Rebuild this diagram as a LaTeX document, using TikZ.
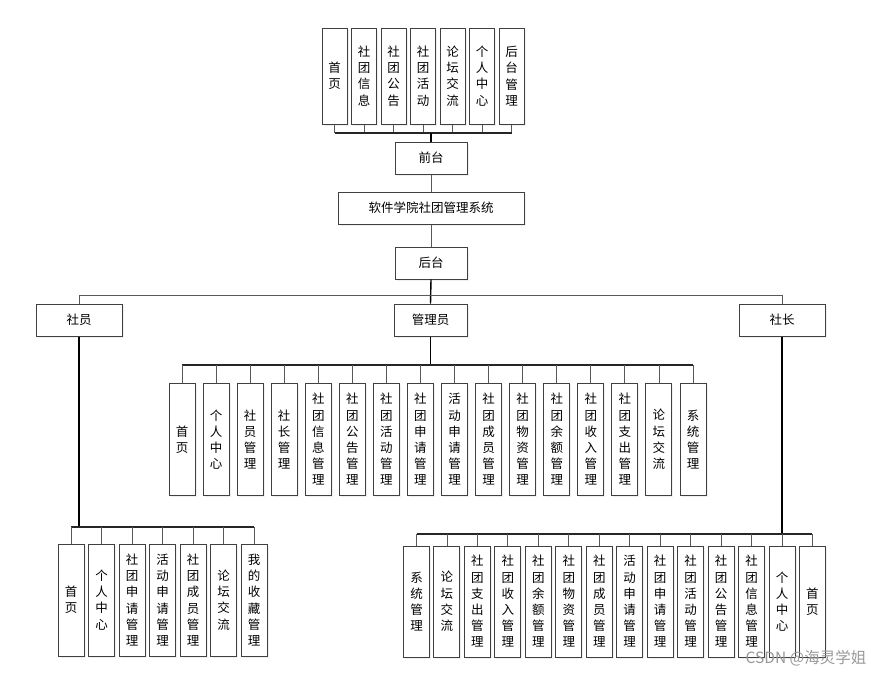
\documentclass[tikz,border=0pt]{standalone}
\usepackage{fontspec}
\setmainfont{Noto Sans CJK SC}
\usetikzlibrary{shadows}
\begin{document}
\begin{tikzpicture}[x=1pt,y=-1pt,
  box/.style={draw=black!75, line width=1pt, fill=white, inner sep=0pt, align=center,
    font=\fontsize{12.5}{16.2}\selectfont,
    drop shadow={opacity=0.12, shadow xshift=1.5pt, shadow yshift=-1.5pt}},
  hbox/.style={box, minimum height=32pt},
  vtop/.style={box, minimum width=25pt, minimum height=96pt},
  vbox/.style={box, minimum width=26pt, minimum height=112pt},
  stub/.style={draw=black!65, line width=0.9pt},
  bus/.style={draw=black!85, line width=1.2pt},
  trunk/.style={draw=black, line width=1.4pt}]
\useasboundingbox (0,0) rectangle (888,672);

% top row
\foreach \t [count=\i] in {首\\页, 社\\团\\信\\息, 社\\团\\公\\告, 社\\团\\活\\动, 论\\坛\\交\\流, 个\\人\\中\\心, 后\\台\\管\\理}
  \node[vtop] (t\i) at ({334.5+(\i-1)*29.5},76) {\t};

\node[hbox, minimum width=72pt] (qt) at (431,158) {前台};
\node[hbox, minimum width=186pt] (sys) at (431,208) {软件学院社团管理系统};
\node[hbox, minimum width=72pt] (ht) at (431,263) {后台};
\node[hbox, minimum width=73pt] (gly) at (430.5,320) {管理员};
\node[hbox, minimum width=86pt] (sy) at (79,320) {社员};
\node[hbox, minimum width=86pt] (sz) at (782,320) {社长};

% middle row
\foreach \t [count=\i] in {首\\页, 个\\人\\中\\心, 社\\员\\管\\理, 社\\长\\管\\理,
  社\\团\\信\\息\\管\\理, 社\\团\\公\\告\\管\\理, 社\\团\\活\\动\\管\\理, 社\\团\\申\\请\\管\\理,
  活\\动\\申\\请\\管\\理, 社\\团\\成\\员\\管\\理, 社\\团\\物\\资\\管\\理, 社\\团\\余\\额\\管\\理,
  社\\团\\收\\入\\管\\理, 社\\团\\支\\出\\管\\理, 论\\坛\\交\\流, 系\\统\\管\\理}
  \node[vbox] (m\i) at ({182+(\i-1)*34.07},439.5) {\t};

% bottom left
\foreach \t [count=\i] in {首\\页, 个\\人\\中\\心, 社\\团\\申\\请\\管\\理, 活\\动\\申\\请\\管\\理,
  社\\团\\成\\员\\管\\理, 论\\坛\\交\\流, 我\\的\\收\\藏\\管\\理}
  \node[vbox] (l\i) at ({71+(\i-1)*30.5},600) {\t};

% bottom right
\foreach \t [count=\i] in {系\\统\\管\\理, 论\\坛\\交\\流, 社\\团\\支\\出\\管\\理, 社\\团\\收\\入\\管\\理,
  社\\团\\余\\额\\管\\理, 社\\团\\物\\资\\管\\理, 社\\团\\成\\员\\管\\理, 活\\动\\申\\请\\管\\理,
  社\\团\\申\\请\\管\\理, 社\\团\\活\\动\\管\\理, 社\\团\\公\\告\\管\\理, 社\\团\\信\\息\\管\\理,
  个\\人\\中\\心, 首\\页}
  \node[vbox, minimum height=111pt] (r\i) at ({416.5+(\i-1)*30.46},601.5) {\t};

% bus coordinates
\coordinate (tb) at (431,133);
\coordinate (hb) at (431,295);
\coordinate (mb) at (431,365);
\coordinate (lb) at (79,527);
\coordinate (rb) at (782,534);

% top connectors
\foreach \i in {1,...,7} \draw[stub] (t\i.south) -- (t\i.south |- tb);
\draw[bus] (t1.south |- tb) -- (t7.south |- tb);
\draw[trunk] (qt.north) -- (qt.north |- tb);
\draw[stub] (qt.south) -- (sys.north);
\draw[stub] (sys.south) -- (ht.north);
\draw[trunk] (ht.south) -- (gly.north);
\draw[stub] (sy.north) -- (sy.north |- hb) -- (sz.north |- hb) -- (sz.north);

% middle connectors
\draw[trunk] (gly.south) -- (gly.south |- mb);
\draw[bus] (m1.north |- mb) -- (m16.north |- mb);
\foreach \i in {1,...,16} \draw[stub] (m\i.north |- mb) -- (m\i.north);

% left connectors
\draw[trunk] (sy.south) -- (sy.south |- lb);
\draw[bus] (l1.north |- lb) -- (l7.north |- lb);
\foreach \i in {1,...,7} \draw[stub] (l\i.north |- lb) -- (l\i.north);

% right connectors
\draw[trunk] (sz.south) -- (sz.south |- rb);
\draw[bus] (r1.north |- rb) -- (r14.north |- rb);
\foreach \i in {1,...,14} \draw[stub] (r\i.north |- rb) -- (r\i.north);

% watermark
\node[text=black!40, font=\fontsize{15.5}{15.5}\selectfont, inner sep=0pt] (wm) at (806,658) {CSDN @海灵学姐};
\end{tikzpicture}
\end{document}
